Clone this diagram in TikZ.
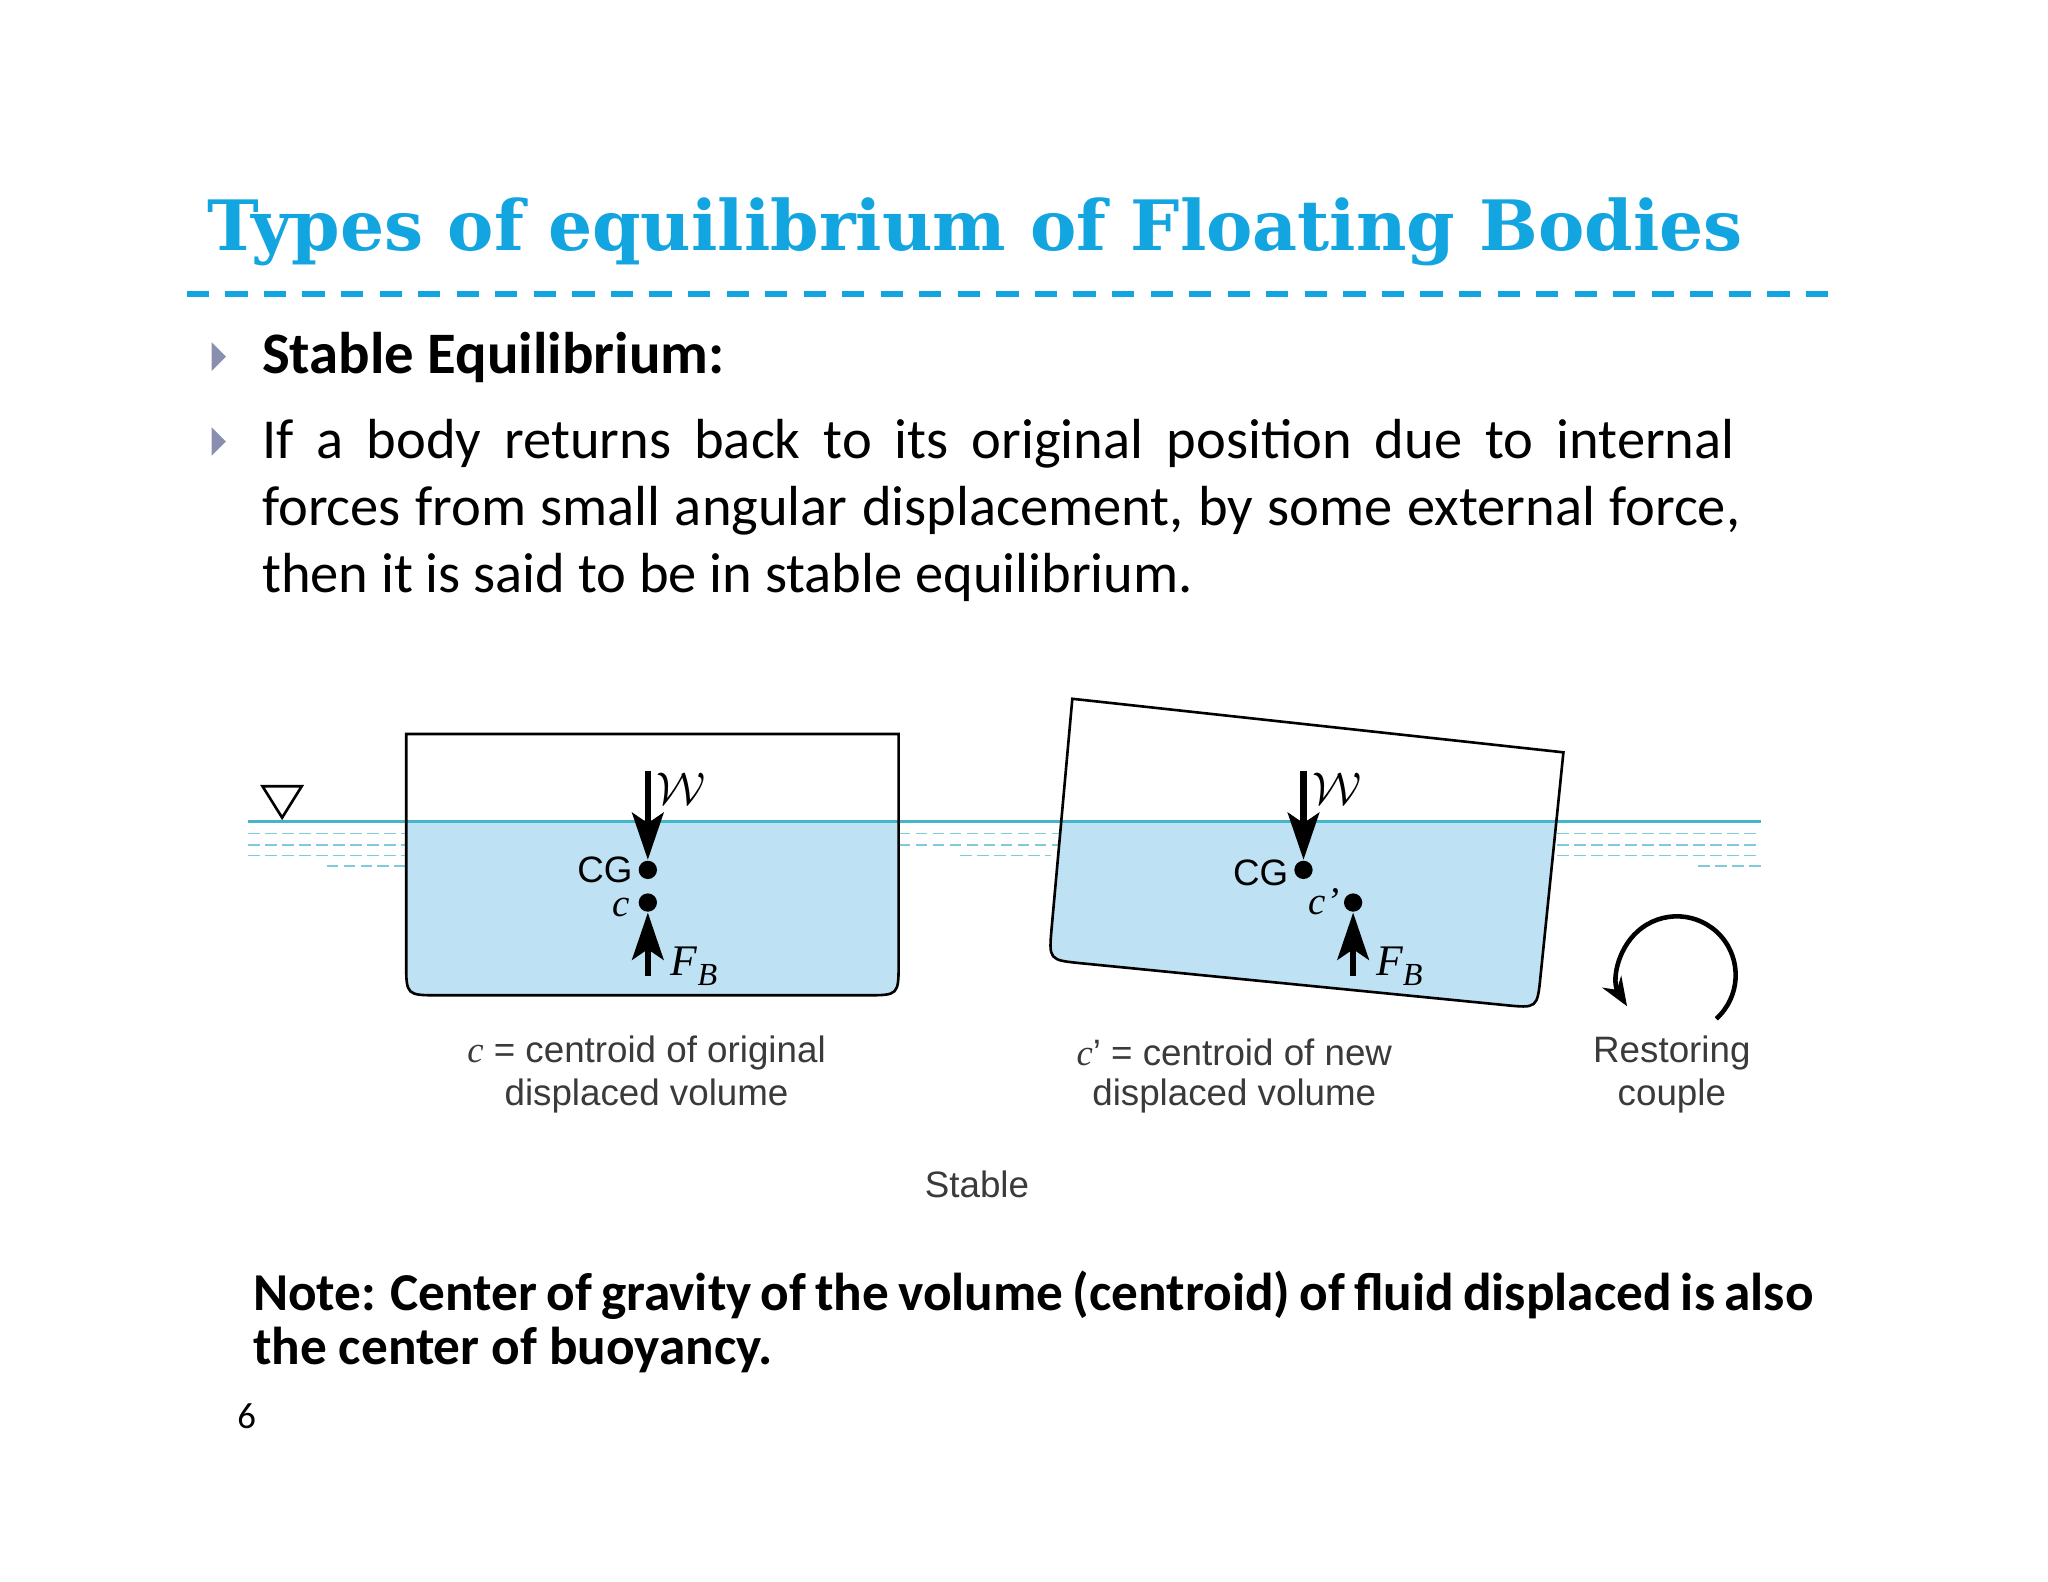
\documentclass[tikz,border=0pt]{standalone}
\usepackage{fontspec}
\setmainfont{Carlito}
\newfontfamily\titlefont{DejaVu Serif}
\newfontfamily\capfont{Liberation Sans}
\newfontfamily\itfont{Liberation Serif}
\usetikzlibrary{arrows.meta}
\definecolor{ttl}{HTML}{12A5E0}
\definecolor{bul}{HTML}{8A8FB0}
\definecolor{wline}{HTML}{45B5CC}
\definecolor{wfill}{HTML}{BFE1F4}
\definecolor{capc}{HTML}{3A3A3A}
\begin{document}
\begin{tikzpicture}[x=0.01cm,y=-0.01cm,
  captxt/.style={font=\capfont\fontsize{8}{10}\selectfont,text=capc,inner sep=0pt},
  lab/.style={font=\capfont\fontsize{8}{10}\selectfont,inner sep=0pt},
  ital/.style={font=\itfont\itshape\fontsize{8.5}{10}\selectfont,inner sep=0pt},
  force/.style={line width=0.05cm,-{Stealth[length=0.36cm,width=0.24cm,inset=0.08cm]}},
  dotc/.style={circle,fill=black,inner sep=0pt,minimum size=0.14cm},
  body/.style={font=\fontsize{12.3}{14}\selectfont,anchor=base west,inner sep=0pt},
  wd/.style={wline!70,line width=0.012cm,dash pattern=on 0.09cm off 0.04cm},
  bl/.style={fill=bul}]
\useasboundingbox (0,0) rectangle (1568,1211);
% title
\node[anchor=base west,inner sep=0pt,text=ttl,font=\titlefont\bfseries] (title) at (158,192) {\resizebox{11.75cm}{!}{Types of equilibrium of Floating Bodies}};
\draw[ttl,line width=0.04cm,dash pattern=on 0.17cm off 0.125cm] (143,225) -- (1408,225);
% bullets
\fill[bl] (162,262) -- (162,284) -- (173,273) -- cycle;
\fill[bl] (162,327) -- (162,349) -- (173,338) -- cycle;
\node[body,font=\bfseries\fontsize{12.8}{14}\selectfont] (h) at (200,286) {Stable Equilibrium:};
\node[body] (l1) at (200,351) {\makebox[11.27cm][s]{If a body returns back to its original position due to internal}};
\node[body] (l2) at (200,402) {\makebox[11.31cm][s]{forces from small angular displacement, by some external force,}};
\node[body] (l3) at (200,454) {then it is said to be in stable equilibrium.};
% water
\draw[wline,line width=0.02cm] (190,629) -- (1348,629);
\foreach \y in {638,647,655}{
  \draw[wd] (190,\y) -- (311,\y);
  \draw[wd] (1192,\y) -- (1348,\y);}
\draw[wd] (250,663) -- (311,663);
\draw[wd] (688,638) -- (812,638);
\draw[wd] (688,647) -- (812,647);
\draw[wd] (735,655) -- (805,655);
\draw[wd] (1300,663) -- (1348,663);
% triangle
\draw[line width=0.02cm] (201,602) -- (231,602) -- (216,626) -- cycle;
% boxes
\begin{scope}
\clip (0,629) rectangle (1568,1211);
\fill[wfill] (311,562) -- (311,737) .. controls (311,762) .. (336,762) -- (663,762) .. controls (688,762) .. (688,737) -- (688,562) -- cycle;
\fill[wfill] (821,535) -- (805.2,710.1) .. controls (803,735) .. (827.9,737.5) -- (1152.1,769.5) .. controls (1177,772) .. (1179.5,747.1) -- (1197,576) -- cycle;
\end{scope}
\draw[wline,line width=0.02cm] (311,629) -- (688,629);
\draw[wline,line width=0.02cm] (812,629) -- (1192,629);
\draw[line width=0.02cm] (311,562) -- (311,737) .. controls (311,762) .. (336,762) -- (663,762) .. controls (688,762) .. (688,737) -- (688,562) -- cycle;
\draw[line width=0.02cm] (821,535) -- (805.2,710.1) .. controls (803,735) .. (827.9,737.5) -- (1152.1,769.5) .. controls (1177,772) .. (1179.5,747.1) -- (1197,576) -- cycle;
% left forces
\node[dotc] (cg1) at (496,666) {};
\node[dotc] (c1) at (496,691) {};
\coordinate (w1) at (496,590);
\coordinate (fb1) at (496,747);
\draw[force] (w1) -- (cg1.north);
\draw[force] (fb1) -- (c1.south);
\node[anchor=west,inner sep=0pt] (W1) at (502,604) {$\mathcal{W}$};
\node[lab,anchor=east] (CG1) at (485,666) {CG};
\node[ital,anchor=east] (cl1) at (483,695) {c};
\node[ital,anchor=west] (F1) at (513,740) {\fontsize{9.5}{12}\selectfont F\raisebox{-0.5ex}{\fontsize{7}{10}\selectfont B}};
% right forces
\node[dotc] (cg2) at (998,666) {};
\node[dotc] (c2) at (1036,691) {};
\coordinate (w2) at (998,590);
\coordinate (fb2) at (1036,747);
\draw[force] (w2) -- (cg2.north);
\draw[force] (fb2) -- (c2.south);
\node[anchor=west,inner sep=0pt] (W2) at (1004,604) {$\mathcal{W}$};
\node[lab,anchor=east] (CG2) at (987,668) {CG};
\node[ital,anchor=east] (cl2) at (1026,690) {c’};
\node[ital,anchor=west] (F2) at (1053,740) {\fontsize{9.5}{12}\selectfont F\raisebox{-0.5ex}{\fontsize{7}{10}\selectfont B}};
% restoring couple
\draw[line width=0.035cm,-{Stealth[length=0.22cm,width=0.17cm]}] (1314,780) arc[start angle=48,end angle=-212,radius=45];
% captions
\node[captxt] (cap1) at (495,806) {{\itfont\itshape c} = centroid of original};
\node[captxt] (cap1b) at (495,839) {displaced volume};
\node[captxt] (cap2) at (945,806) {{\itfont\itshape c}’ = centroid of new};
\node[captxt] (cap2b) at (945,839) {displaced volume};
\node[captxt] (cap3) at (1280,806) {Restoring};
\node[captxt] (cap3b) at (1280,839) {couple};
\node[captxt] (st) at (748,907) {Stable};
% note
\node[body,font=\bfseries\fontsize{11.6}{14}\selectfont] (n1) at (193,1003) {\makebox[11.94cm][s]{Note: Center of gravity of the volume (centroid) of fluid displaced is also}};
\node[body,font=\bfseries\fontsize{11.6}{14}\selectfont] (n2) at (193,1045) {the center of buoyancy.};
\node[body,font=\fontsize{8}{10}\selectfont] (pg) at (181,1094) {6};
\end{tikzpicture}
\end{document}
